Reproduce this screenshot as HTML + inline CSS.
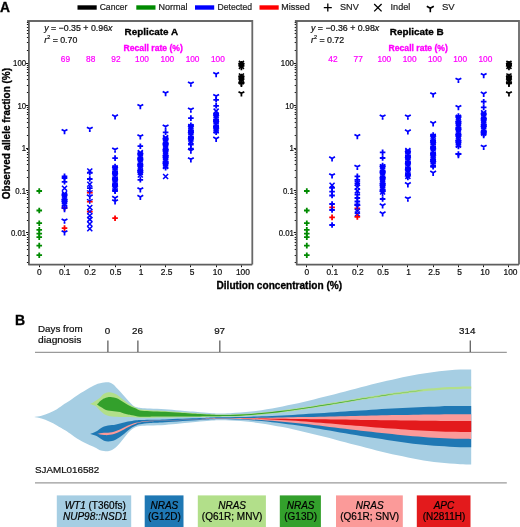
<!DOCTYPE html><html><head><meta charset="utf-8"><title>Figure</title><style>html,body{margin:0;padding:0;background:#fff;}svg{display:block;}text{font-family:"Liberation Sans", Arial, Helvetica, sans-serif;}</style></head><body>
<svg width="520" height="527" viewBox="0 0 520 527">

<defs>
<path id="mp" d="M-2.8,0 H2.8 M0,-2.8 V2.8" stroke-width="1.8" fill="none"/>
<path id="mx" d="M-2.5,-2.5 L2.5,2.5 M-2.5,2.5 L2.5,-2.5" stroke-width="1.55" fill="none"/>
<path id="my" d="M-2.9,-2.1 L0,-0.5 L2.9,-2.1 M0,-0.5 V2.7" stroke-width="1.75" fill="none"/>
<path id="mpt" d="M-2.7,0 H2.7 M0,-2.7 V2.7" stroke-width="1.15" fill="none"/>
<path id="mxt" d="M-2.5,-2.5 L2.5,2.5 M-2.5,2.5 L2.5,-2.5" stroke-width="1.05" fill="none"/>
<path id="myt" d="M-2.9,-2.1 L0,-0.5 L2.9,-2.1 M0,-0.5 V2.7" stroke-width="1.3" fill="none"/>
</defs>

<text x="0.1" y="11.5" font-size="13.8" font-weight="bold" fill="#000" stroke="#000" stroke-width="0.32">A</text>
<text x="15.0" y="325.4" font-size="14" font-weight="bold" fill="#000" stroke="#000" stroke-width="0.32">B</text>
<rect x="77.5" y="5.3" width="19.2" height="4.4" fill="#000"/>
<text x="99.7" y="10.2" font-size="9.6" fill="#222" textLength="27.6" lengthAdjust="spacingAndGlyphs" stroke="#222" stroke-width="0.22">Cancer</text>
<rect x="136.3" y="5.3" width="19.2" height="4.4" fill="#008a00"/>
<text x="158.4" y="10.2" font-size="9.6" fill="#222" textLength="29.1" lengthAdjust="spacingAndGlyphs" stroke="#222" stroke-width="0.22">Normal</text>
<rect x="195" y="5.3" width="19.2" height="4.4" fill="#0000ff"/>
<text x="217.5" y="10.2" font-size="9.6" fill="#222" textLength="34.6" lengthAdjust="spacingAndGlyphs" stroke="#222" stroke-width="0.22">Detected</text>
<rect x="259.5" y="5.3" width="19.2" height="4.4" fill="#ff0000"/>
<text x="281.2" y="10.2" font-size="9.6" fill="#222" textLength="28.5" lengthAdjust="spacingAndGlyphs" stroke="#222" stroke-width="0.22">Missed</text>
<path d="M323.8,7.6 H331.8 M327.8,3.6 V11.6" stroke="#000" stroke-width="1.3" fill="none"/>
<text x="340.0" y="10.2" font-size="9.6" fill="#222" textLength="18.7" lengthAdjust="spacingAndGlyphs" stroke="#222" stroke-width="0.22">SNV</text>
<path d="M374.2,4 L381.6,11.4 M374.2,11.4 L381.6,4" stroke="#000" stroke-width="1.3" fill="none"/>
<text x="390.6" y="10.2" font-size="9.6" fill="#222" textLength="19.7" lengthAdjust="spacingAndGlyphs" stroke="#222" stroke-width="0.22">Indel</text>
<path d="M426.8,6.2 L430.3,8.3 L433.8,6.2 M430.3,8.3 V12.2" stroke="#000" stroke-width="1.6" fill="none"/>
<text x="442.0" y="10.2" font-size="9.6" fill="#222" textLength="12.7" lengthAdjust="spacingAndGlyphs" stroke="#222" stroke-width="0.22">SV</text>
<path d="M27.10,21.00 H252.30 V264.60" fill="none" stroke="#686868" stroke-width="1.8"/>
<path d="M28.90,21.00 V264.60 H252.30" fill="none" stroke="#5e5e5e" stroke-width="1.8" stroke-linejoin="round"/>
<path d="M26.90,262.50 H28.10 M26.90,255.50 H28.10 M26.90,249.50 H28.10 M26.90,245.50 H28.10 M26.90,242.50 H28.10 M26.90,239.50 H28.10 M26.90,237.50 H28.10 M26.90,234.50 H28.10 M26.00,232.50 H28.10 M26.90,220.50 H28.10 M26.90,212.50 H28.10 M26.90,207.50 H28.10 M26.90,203.50 H28.10 M26.90,199.50 H28.10 M26.90,197.50 H28.10 M26.90,194.50 H28.10 M26.90,192.50 H28.10 M26.00,190.50 H28.10 M26.90,177.50 H28.10 M26.90,170.50 H28.10 M26.90,164.50 H28.10 M26.90,160.50 H28.10 M26.90,157.50 H28.10 M26.90,154.50 H28.10 M26.90,152.50 H28.10 M26.90,149.50 H28.10 M26.00,148.50 H28.10 M26.90,135.50 H28.10 M26.90,127.50 H28.10 M26.90,122.50 H28.10 M26.90,118.50 H28.10 M26.90,114.50 H28.10 M26.90,112.50 H28.10 M26.90,109.50 H28.10 M26.90,107.50 H28.10 M26.00,105.50 H28.10 M26.90,92.50 H28.10 M26.90,85.50 H28.10 M26.90,79.50 H28.10 M26.90,75.50 H28.10 M26.90,72.50 H28.10 M26.90,69.50 H28.10 M26.90,67.50 H28.10 M26.90,65.50 H28.10 M26.00,63.50 H28.10 M26.90,50.50 H28.10 M26.90,42.50 H28.10 M26.90,37.50 H28.10 M26.90,33.50 H28.10 M26.90,30.50 H28.10 M26.90,27.50 H28.10 M26.90,24.50 H28.10 M26.90,22.50 H28.10" stroke="#111" stroke-width="1.0" fill="none"/>
<text x="26.10" y="66.20" text-anchor="end" font-size="8.4" fill="#111" textLength="13.03" lengthAdjust="spacingAndGlyphs" stroke="#111" stroke-width="0.22">100</text>
<text x="26.10" y="108.65" text-anchor="end" font-size="8.4" fill="#111" textLength="8.69" lengthAdjust="spacingAndGlyphs" stroke="#111" stroke-width="0.22">10</text>
<text x="26.10" y="151.10" text-anchor="end" font-size="8.4" fill="#111" textLength="4.34" lengthAdjust="spacingAndGlyphs" stroke="#111" stroke-width="0.22">1</text>
<text x="26.10" y="193.55" text-anchor="end" font-size="8.4" fill="#111" textLength="10.86" lengthAdjust="spacingAndGlyphs" stroke="#111" stroke-width="0.22">0.1</text>
<text x="26.10" y="236.00" text-anchor="end" font-size="8.4" fill="#111" textLength="15.20" lengthAdjust="spacingAndGlyphs" stroke="#111" stroke-width="0.22">0.01</text>
<text x="39.25" y="274.9" text-anchor="middle" font-size="8.4" fill="#111" stroke="#111" stroke-width="0.22">0</text>
<text x="64.71" y="274.9" text-anchor="middle" font-size="8.4" fill="#111" stroke="#111" stroke-width="0.22">0.1</text>
<text x="90.17" y="274.9" text-anchor="middle" font-size="8.4" fill="#111" stroke="#111" stroke-width="0.22">0.2</text>
<text x="115.63" y="274.9" text-anchor="middle" font-size="8.4" fill="#111" stroke="#111" stroke-width="0.22">0.5</text>
<text x="141.09" y="274.9" text-anchor="middle" font-size="8.4" fill="#111" stroke="#111" stroke-width="0.22">1</text>
<text x="166.55" y="274.9" text-anchor="middle" font-size="8.4" fill="#111" stroke="#111" stroke-width="0.22">2.5</text>
<text x="192.01" y="274.9" text-anchor="middle" font-size="8.4" fill="#111" stroke="#111" stroke-width="0.22">5</text>
<text x="217.47" y="274.9" text-anchor="middle" font-size="8.4" fill="#111" stroke="#111" stroke-width="0.22">10</text>
<text x="242.93" y="274.9" text-anchor="middle" font-size="8.4" fill="#111" stroke="#111" stroke-width="0.22">100</text>
<path d="M39.50,265.40 V267.20 M64.50,265.40 V267.20 M89.50,265.40 V267.20 M115.50,265.40 V267.20 M140.50,265.40 V267.20 M165.50,265.40 V267.20 M190.50,265.40 V267.20 M216.50,265.40 V267.20 M241.50,265.40 V267.20" stroke="#111" stroke-width="1.0" fill="none"/>
<text x="65.42" y="61.6" text-anchor="middle" font-size="8.3" fill="#ff00ff" stroke="#ff00ff" stroke-width="0.22">69</text>
<text x="90.69" y="61.6" text-anchor="middle" font-size="8.3" fill="#ff00ff" stroke="#ff00ff" stroke-width="0.22">88</text>
<text x="115.96" y="61.6" text-anchor="middle" font-size="8.3" fill="#ff00ff" stroke="#ff00ff" stroke-width="0.22">92</text>
<text x="142.03" y="61.6" text-anchor="middle" font-size="8.3" fill="#ff00ff" stroke="#ff00ff" stroke-width="0.22">100</text>
<text x="167.30" y="61.6" text-anchor="middle" font-size="8.3" fill="#ff00ff" stroke="#ff00ff" stroke-width="0.22">100</text>
<text x="192.57" y="61.6" text-anchor="middle" font-size="8.3" fill="#ff00ff" stroke="#ff00ff" stroke-width="0.22">100</text>
<text x="217.84" y="61.6" text-anchor="middle" font-size="8.3" fill="#ff00ff" stroke="#ff00ff" stroke-width="0.22">100</text>
<text x="123.60" y="50.6" font-size="8.6" font-weight="bold" fill="#ff00ff" stroke="#ff00ff" stroke-width="0.32">Recall rate (%)</text>
<text x="124.60" y="35.1" font-size="9.9" font-weight="bold" fill="#000" stroke="#000" stroke-width="0.32">Replicate A</text>
<text x="44.20" y="31.4" font-size="8.8" fill="#111" stroke="#111" stroke-width="0.22"><tspan font-style="italic">y</tspan> = −0.35 + 0.96<tspan font-style="italic">x</tspan></text>
<text x="44.20" y="42.6" font-size="8.8" fill="#111" stroke="#111" stroke-width="0.22"><tspan font-style="italic">r</tspan><tspan font-size="5.5" dy="-3.2">2</tspan><tspan dy="3.2"> = 0.70</tspan></text>
<path d="M294.90,21.00 H519.00 V264.60" fill="none" stroke="#686868" stroke-width="1.8"/>
<path d="M296.70,21.00 V264.60 H519.00" fill="none" stroke="#5e5e5e" stroke-width="1.8" stroke-linejoin="round"/>
<path d="M294.70,262.50 H295.90 M294.70,255.50 H295.90 M294.70,249.50 H295.90 M294.70,245.50 H295.90 M294.70,242.50 H295.90 M294.70,239.50 H295.90 M294.70,237.50 H295.90 M294.70,234.50 H295.90 M293.80,232.50 H295.90 M294.70,220.50 H295.90 M294.70,212.50 H295.90 M294.70,207.50 H295.90 M294.70,203.50 H295.90 M294.70,199.50 H295.90 M294.70,197.50 H295.90 M294.70,194.50 H295.90 M294.70,192.50 H295.90 M293.80,190.50 H295.90 M294.70,177.50 H295.90 M294.70,170.50 H295.90 M294.70,164.50 H295.90 M294.70,160.50 H295.90 M294.70,157.50 H295.90 M294.70,154.50 H295.90 M294.70,152.50 H295.90 M294.70,149.50 H295.90 M293.80,148.50 H295.90 M294.70,135.50 H295.90 M294.70,127.50 H295.90 M294.70,122.50 H295.90 M294.70,118.50 H295.90 M294.70,114.50 H295.90 M294.70,112.50 H295.90 M294.70,109.50 H295.90 M294.70,107.50 H295.90 M293.80,105.50 H295.90 M294.70,92.50 H295.90 M294.70,85.50 H295.90 M294.70,79.50 H295.90 M294.70,75.50 H295.90 M294.70,72.50 H295.90 M294.70,69.50 H295.90 M294.70,67.50 H295.90 M294.70,65.50 H295.90 M293.80,63.50 H295.90 M294.70,50.50 H295.90 M294.70,42.50 H295.90 M294.70,37.50 H295.90 M294.70,33.50 H295.90 M294.70,30.50 H295.90 M294.70,27.50 H295.90 M294.70,24.50 H295.90 M294.70,22.50 H295.90" stroke="#111" stroke-width="1.0" fill="none"/>
<text x="293.90" y="66.20" text-anchor="end" font-size="8.4" fill="#111" textLength="13.03" lengthAdjust="spacingAndGlyphs" stroke="#111" stroke-width="0.22">100</text>
<text x="293.90" y="108.65" text-anchor="end" font-size="8.4" fill="#111" textLength="8.69" lengthAdjust="spacingAndGlyphs" stroke="#111" stroke-width="0.22">10</text>
<text x="293.90" y="151.10" text-anchor="end" font-size="8.4" fill="#111" textLength="4.34" lengthAdjust="spacingAndGlyphs" stroke="#111" stroke-width="0.22">1</text>
<text x="293.90" y="193.55" text-anchor="end" font-size="8.4" fill="#111" textLength="10.86" lengthAdjust="spacingAndGlyphs" stroke="#111" stroke-width="0.22">0.1</text>
<text x="293.90" y="236.00" text-anchor="end" font-size="8.4" fill="#111" textLength="15.20" lengthAdjust="spacingAndGlyphs" stroke="#111" stroke-width="0.22">0.01</text>
<text x="306.80" y="274.9" text-anchor="middle" font-size="8.4" fill="#111" stroke="#111" stroke-width="0.22">0</text>
<text x="332.26" y="274.9" text-anchor="middle" font-size="8.4" fill="#111" stroke="#111" stroke-width="0.22">0.1</text>
<text x="357.72" y="274.9" text-anchor="middle" font-size="8.4" fill="#111" stroke="#111" stroke-width="0.22">0.2</text>
<text x="383.18" y="274.9" text-anchor="middle" font-size="8.4" fill="#111" stroke="#111" stroke-width="0.22">0.5</text>
<text x="408.64" y="274.9" text-anchor="middle" font-size="8.4" fill="#111" stroke="#111" stroke-width="0.22">1</text>
<text x="434.10" y="274.9" text-anchor="middle" font-size="8.4" fill="#111" stroke="#111" stroke-width="0.22">2.5</text>
<text x="459.56" y="274.9" text-anchor="middle" font-size="8.4" fill="#111" stroke="#111" stroke-width="0.22">5</text>
<text x="485.02" y="274.9" text-anchor="middle" font-size="8.4" fill="#111" stroke="#111" stroke-width="0.22">10</text>
<text x="510.48" y="274.9" text-anchor="middle" font-size="8.4" fill="#111" stroke="#111" stroke-width="0.22">100</text>
<path d="M306.50,265.40 V267.20 M332.50,265.40 V267.20 M357.50,265.40 V267.20 M382.50,265.40 V267.20 M407.50,265.40 V267.20 M433.50,265.40 V267.20 M458.50,265.40 V267.20 M483.50,265.40 V267.20 M508.50,265.40 V267.20" stroke="#111" stroke-width="1.0" fill="none"/>
<text x="332.97" y="61.6" text-anchor="middle" font-size="8.3" fill="#ff00ff" stroke="#ff00ff" stroke-width="0.22">42</text>
<text x="358.24" y="61.6" text-anchor="middle" font-size="8.3" fill="#ff00ff" stroke="#ff00ff" stroke-width="0.22">77</text>
<text x="384.31" y="61.6" text-anchor="middle" font-size="8.3" fill="#ff00ff" stroke="#ff00ff" stroke-width="0.22">100</text>
<text x="409.58" y="61.6" text-anchor="middle" font-size="8.3" fill="#ff00ff" stroke="#ff00ff" stroke-width="0.22">100</text>
<text x="434.85" y="61.6" text-anchor="middle" font-size="8.3" fill="#ff00ff" stroke="#ff00ff" stroke-width="0.22">100</text>
<text x="460.12" y="61.6" text-anchor="middle" font-size="8.3" fill="#ff00ff" stroke="#ff00ff" stroke-width="0.22">100</text>
<text x="485.39" y="61.6" text-anchor="middle" font-size="8.3" fill="#ff00ff" stroke="#ff00ff" stroke-width="0.22">100</text>
<text x="388.60" y="50.6" font-size="8.6" font-weight="bold" fill="#ff00ff" stroke="#ff00ff" stroke-width="0.32">Recall rate (%)</text>
<text x="389.80" y="35.1" font-size="9.9" font-weight="bold" fill="#000" stroke="#000" stroke-width="0.32">Replicate B</text>
<text x="311.00" y="31.4" font-size="8.8" fill="#111" stroke="#111" stroke-width="0.22"><tspan font-style="italic">y</tspan> = −0.36 + 0.98<tspan font-style="italic">x</tspan></text>
<text x="311.00" y="42.6" font-size="8.8" fill="#111" stroke="#111" stroke-width="0.22"><tspan font-style="italic">r</tspan><tspan font-size="5.5" dy="-3.2">2</tspan><tspan dy="3.2"> = 0.72</tspan></text>
<text transform="translate(10.2,133.6) rotate(-90)" text-anchor="middle" font-size="10.6" font-weight="bold" fill="#000" textLength="131.2" lengthAdjust="spacingAndGlyphs" stroke="#000" stroke-width="0.32">Observed allele fraction (%)</text>
<text x="279.3" y="288.6" text-anchor="middle" font-size="10.1" font-weight="bold" fill="#000" stroke="#000" stroke-width="0.32">Dilution concentration (%)</text>
<use href="#mp" x="39.25" y="191.00" stroke="#008a00"/>
<use href="#mp" x="306.80" y="191.00" stroke="#008a00"/>
<use href="#mp" x="39.25" y="210.50" stroke="#008a00"/>
<use href="#mp" x="306.80" y="210.50" stroke="#008a00"/>
<use href="#mp" x="39.25" y="223.20" stroke="#008a00"/>
<use href="#mp" x="306.80" y="223.20" stroke="#008a00"/>
<use href="#mp" x="39.25" y="229.80" stroke="#008a00"/>
<use href="#mp" x="306.80" y="229.80" stroke="#008a00"/>
<use href="#mp" x="39.25" y="233.60" stroke="#008a00"/>
<use href="#mp" x="306.80" y="233.60" stroke="#008a00"/>
<use href="#mp" x="39.25" y="237.10" stroke="#008a00"/>
<use href="#mp" x="306.80" y="237.10" stroke="#008a00"/>
<use href="#mp" x="39.25" y="245.60" stroke="#008a00"/>
<use href="#mp" x="306.80" y="245.60" stroke="#008a00"/>
<use href="#mp" x="39.25" y="255.20" stroke="#008a00"/>
<use href="#mp" x="306.80" y="255.20" stroke="#008a00"/>
<use href="#my" x="64.52" y="131.60" stroke="#0000ff"/>
<use href="#mp" x="64.52" y="208.00" stroke="#ff0000"/>
<use href="#mp" x="64.52" y="176.40" stroke="#0000ff"/>
<use href="#mp" x="64.52" y="178.00" stroke="#0000ff"/>
<use href="#mp" x="64.52" y="181.80" stroke="#0000ff"/>
<use href="#mx" x="64.52" y="188.30" stroke="#0000ff"/>
<use href="#mx" x="64.52" y="193.80" stroke="#0000ff"/>
<use href="#mx" x="64.52" y="195.11" stroke="#0000ff"/>
<use href="#my" x="64.52" y="196.42" stroke="#0000ff"/>
<use href="#mx" x="64.52" y="197.73" stroke="#0000ff"/>
<use href="#mp" x="64.52" y="199.04" stroke="#0000ff"/>
<use href="#mp" x="64.52" y="200.36" stroke="#0000ff"/>
<use href="#mx" x="64.52" y="201.67" stroke="#0000ff"/>
<use href="#my" x="64.52" y="202.98" stroke="#0000ff"/>
<use href="#mx" x="64.52" y="204.29" stroke="#0000ff"/>
<use href="#mp" x="64.52" y="205.60" stroke="#0000ff"/>
<use href="#my" x="64.52" y="209.60" stroke="#0000ff"/>
<use href="#my" x="64.52" y="221.00" stroke="#0000ff"/>
<use href="#my" x="64.52" y="232.80" stroke="#0000ff"/>
<use href="#mp" x="64.52" y="228.10" stroke="#ff0000"/>
<use href="#my" x="89.79" y="129.30" stroke="#0000ff"/>
<path d="M86.89,192.60 H92.69" stroke="#ff0000" stroke-width="1.9"/>
<path d="M86.89,201.60 H92.69" stroke="#ff0000" stroke-width="1.9"/>
<path d="M86.89,211.60 H92.69" stroke="#ff0000" stroke-width="1.9"/>
<use href="#mx" x="89.79" y="171.00" stroke="#0000ff"/>
<use href="#mp" x="89.79" y="172.60" stroke="#0000ff"/>
<use href="#mp" x="89.79" y="179.00" stroke="#0000ff"/>
<use href="#mx" x="89.79" y="184.30" stroke="#0000ff"/>
<use href="#mp" x="89.79" y="188.20" stroke="#0000ff"/>
<use href="#myt" x="89.79" y="192.60" stroke="#0000ff"/>
<use href="#my" x="89.79" y="196.90" stroke="#0000ff"/>
<use href="#myt" x="89.79" y="201.30" stroke="#0000ff"/>
<use href="#mx" x="89.79" y="207.50" stroke="#0000ff"/>
<use href="#mxt" x="89.79" y="211.60" stroke="#0000ff"/>
<use href="#mx" x="89.79" y="215.80" stroke="#0000ff"/>
<use href="#mx" x="89.79" y="219.40" stroke="#0000ff"/>
<use href="#mx" x="89.79" y="224.00" stroke="#0000ff"/>
<use href="#mx" x="89.79" y="228.70" stroke="#0000ff"/>
<use href="#my" x="115.06" y="116.90" stroke="#0000ff"/>
<use href="#my" x="115.06" y="150.10" stroke="#0000ff"/>
<use href="#mp" x="115.06" y="158.10" stroke="#0000ff"/>
<use href="#mp" x="115.06" y="166.60" stroke="#0000ff"/>
<use href="#mx" x="115.06" y="167.83" stroke="#0000ff"/>
<use href="#my" x="115.06" y="169.06" stroke="#0000ff"/>
<use href="#mx" x="115.06" y="170.29" stroke="#0000ff"/>
<use href="#mp" x="115.06" y="171.52" stroke="#0000ff"/>
<use href="#mp" x="115.06" y="172.75" stroke="#0000ff"/>
<use href="#mx" x="115.06" y="173.98" stroke="#0000ff"/>
<use href="#my" x="115.06" y="175.21" stroke="#0000ff"/>
<use href="#mx" x="115.06" y="176.44" stroke="#0000ff"/>
<use href="#mp" x="115.06" y="177.67" stroke="#0000ff"/>
<use href="#mp" x="115.06" y="178.90" stroke="#0000ff"/>
<use href="#mx" x="115.06" y="180.13" stroke="#0000ff"/>
<use href="#my" x="115.06" y="181.36" stroke="#0000ff"/>
<use href="#mx" x="115.06" y="182.59" stroke="#0000ff"/>
<use href="#mp" x="115.06" y="183.82" stroke="#0000ff"/>
<use href="#mp" x="115.06" y="185.05" stroke="#0000ff"/>
<use href="#mx" x="115.06" y="186.28" stroke="#0000ff"/>
<use href="#my" x="115.06" y="187.51" stroke="#0000ff"/>
<use href="#mx" x="115.06" y="188.74" stroke="#0000ff"/>
<use href="#mp" x="115.06" y="189.97" stroke="#0000ff"/>
<use href="#mp" x="115.06" y="191.20" stroke="#0000ff"/>
<use href="#my" x="115.06" y="198.40" stroke="#0000ff"/>
<use href="#my" x="115.06" y="201.80" stroke="#0000ff"/>
<use href="#mp" x="115.06" y="218.20" stroke="#ff0000"/>
<use href="#my" x="140.33" y="106.60" stroke="#0000ff"/>
<use href="#my" x="140.33" y="136.80" stroke="#0000ff"/>
<use href="#mp" x="140.33" y="146.20" stroke="#0000ff"/>
<use href="#mx" x="140.33" y="152.60" stroke="#0000ff"/>
<use href="#mx" x="140.33" y="153.84" stroke="#0000ff"/>
<use href="#my" x="140.33" y="155.09" stroke="#0000ff"/>
<use href="#mx" x="140.33" y="156.33" stroke="#0000ff"/>
<use href="#mp" x="140.33" y="157.58" stroke="#0000ff"/>
<use href="#mp" x="140.33" y="158.82" stroke="#0000ff"/>
<use href="#mx" x="140.33" y="160.07" stroke="#0000ff"/>
<use href="#my" x="140.33" y="161.31" stroke="#0000ff"/>
<use href="#mx" x="140.33" y="162.56" stroke="#0000ff"/>
<use href="#mp" x="140.33" y="163.80" stroke="#0000ff"/>
<use href="#mp" x="140.33" y="165.04" stroke="#0000ff"/>
<use href="#mx" x="140.33" y="166.29" stroke="#0000ff"/>
<use href="#my" x="140.33" y="167.53" stroke="#0000ff"/>
<use href="#mx" x="140.33" y="168.78" stroke="#0000ff"/>
<use href="#mp" x="140.33" y="170.02" stroke="#0000ff"/>
<use href="#mp" x="140.33" y="171.27" stroke="#0000ff"/>
<use href="#mx" x="140.33" y="172.51" stroke="#0000ff"/>
<use href="#my" x="140.33" y="173.76" stroke="#0000ff"/>
<use href="#mx" x="140.33" y="175.00" stroke="#0000ff"/>
<use href="#mp" x="140.33" y="179.80" stroke="#0000ff"/>
<use href="#my" x="140.33" y="189.80" stroke="#0000ff"/>
<use href="#my" x="140.33" y="197.40" stroke="#0000ff"/>
<use href="#my" x="165.60" y="93.60" stroke="#0000ff"/>
<use href="#my" x="165.60" y="127.00" stroke="#0000ff"/>
<use href="#mp" x="165.60" y="132.30" stroke="#0000ff"/>
<use href="#mx" x="165.60" y="137.60" stroke="#0000ff"/>
<use href="#mx" x="165.60" y="138.85" stroke="#0000ff"/>
<use href="#my" x="165.60" y="140.10" stroke="#0000ff"/>
<use href="#mx" x="165.60" y="141.35" stroke="#0000ff"/>
<use href="#mp" x="165.60" y="142.60" stroke="#0000ff"/>
<use href="#mp" x="165.60" y="143.85" stroke="#0000ff"/>
<use href="#mx" x="165.60" y="145.10" stroke="#0000ff"/>
<use href="#my" x="165.60" y="146.35" stroke="#0000ff"/>
<use href="#mx" x="165.60" y="147.60" stroke="#0000ff"/>
<use href="#mp" x="165.60" y="148.85" stroke="#0000ff"/>
<use href="#mp" x="165.60" y="150.10" stroke="#0000ff"/>
<use href="#mx" x="165.60" y="151.35" stroke="#0000ff"/>
<use href="#my" x="165.60" y="152.60" stroke="#0000ff"/>
<use href="#mx" x="165.60" y="153.85" stroke="#0000ff"/>
<use href="#mp" x="165.60" y="155.10" stroke="#0000ff"/>
<use href="#mp" x="165.60" y="156.35" stroke="#0000ff"/>
<use href="#mx" x="165.60" y="157.60" stroke="#0000ff"/>
<use href="#my" x="165.60" y="158.85" stroke="#0000ff"/>
<use href="#mx" x="165.60" y="160.10" stroke="#0000ff"/>
<use href="#mp" x="165.60" y="161.35" stroke="#0000ff"/>
<use href="#mp" x="165.60" y="162.60" stroke="#0000ff"/>
<use href="#mx" x="165.60" y="163.85" stroke="#0000ff"/>
<use href="#my" x="165.60" y="165.10" stroke="#0000ff"/>
<use href="#mx" x="165.60" y="166.35" stroke="#0000ff"/>
<use href="#mp" x="165.60" y="167.60" stroke="#0000ff"/>
<use href="#mx" x="165.60" y="176.50" stroke="#0000ff"/>
<use href="#my" x="190.87" y="84.00" stroke="#0000ff"/>
<use href="#my" x="190.87" y="110.10" stroke="#0000ff"/>
<use href="#mp" x="190.87" y="118.10" stroke="#0000ff"/>
<use href="#mp" x="190.87" y="125.20" stroke="#0000ff"/>
<use href="#mx" x="190.87" y="126.46" stroke="#0000ff"/>
<use href="#my" x="190.87" y="127.72" stroke="#0000ff"/>
<use href="#mx" x="190.87" y="128.98" stroke="#0000ff"/>
<use href="#mp" x="190.87" y="130.25" stroke="#0000ff"/>
<use href="#mp" x="190.87" y="131.51" stroke="#0000ff"/>
<use href="#mx" x="190.87" y="132.77" stroke="#0000ff"/>
<use href="#my" x="190.87" y="134.03" stroke="#0000ff"/>
<use href="#mx" x="190.87" y="135.29" stroke="#0000ff"/>
<use href="#mp" x="190.87" y="136.55" stroke="#0000ff"/>
<use href="#mp" x="190.87" y="137.82" stroke="#0000ff"/>
<use href="#mx" x="190.87" y="139.08" stroke="#0000ff"/>
<use href="#my" x="190.87" y="140.34" stroke="#0000ff"/>
<use href="#mx" x="190.87" y="141.60" stroke="#0000ff"/>
<use href="#mp" x="190.87" y="144.60" stroke="#0000ff"/>
<use href="#mp" x="190.87" y="148.60" stroke="#0000ff"/>
<use href="#my" x="190.87" y="151.00" stroke="#0000ff"/>
<use href="#my" x="190.87" y="159.80" stroke="#0000ff"/>
<use href="#my" x="216.14" y="74.60" stroke="#0000ff"/>
<use href="#my" x="216.14" y="96.50" stroke="#0000ff"/>
<use href="#mp" x="216.14" y="99.80" stroke="#0000ff"/>
<use href="#mp" x="216.14" y="105.80" stroke="#0000ff"/>
<use href="#mx" x="216.14" y="111.10" stroke="#0000ff"/>
<use href="#mp" x="216.14" y="114.20" stroke="#0000ff"/>
<use href="#mx" x="216.14" y="115.49" stroke="#0000ff"/>
<use href="#my" x="216.14" y="116.77" stroke="#0000ff"/>
<use href="#mx" x="216.14" y="118.06" stroke="#0000ff"/>
<use href="#mp" x="216.14" y="119.34" stroke="#0000ff"/>
<use href="#mp" x="216.14" y="120.63" stroke="#0000ff"/>
<use href="#mx" x="216.14" y="121.91" stroke="#0000ff"/>
<use href="#my" x="216.14" y="123.20" stroke="#0000ff"/>
<use href="#mx" x="216.14" y="124.49" stroke="#0000ff"/>
<use href="#mp" x="216.14" y="125.77" stroke="#0000ff"/>
<use href="#mp" x="216.14" y="127.06" stroke="#0000ff"/>
<use href="#mx" x="216.14" y="128.34" stroke="#0000ff"/>
<use href="#my" x="216.14" y="129.63" stroke="#0000ff"/>
<use href="#mx" x="216.14" y="130.91" stroke="#0000ff"/>
<use href="#mp" x="216.14" y="132.20" stroke="#0000ff"/>
<use href="#my" x="216.14" y="139.20" stroke="#0000ff"/>
<use href="#mx" x="241.41" y="63.40" stroke="#000"/>
<use href="#mp" x="241.41" y="63.80" stroke="#000"/>
<use href="#my" x="241.41" y="65.20" stroke="#000"/>
<use href="#mx" x="241.41" y="66.40" stroke="#000"/>
<use href="#my" x="241.41" y="67.60" stroke="#000"/>
<use href="#mx" x="241.41" y="76.00" stroke="#000"/>
<use href="#mp" x="241.41" y="76.60" stroke="#000"/>
<use href="#my" x="241.41" y="77.80" stroke="#000"/>
<use href="#mx" x="241.41" y="79.20" stroke="#000"/>
<use href="#my" x="241.41" y="80.60" stroke="#000"/>
<use href="#mx" x="241.41" y="81.80" stroke="#000"/>
<use href="#mp" x="241.41" y="83.00" stroke="#000"/>
<use href="#my" x="241.41" y="84.40" stroke="#000"/>
<use href="#my" x="241.41" y="93.80" stroke="#000"/>
<use href="#mx" x="508.96" y="63.40" stroke="#000"/>
<use href="#mp" x="508.96" y="63.80" stroke="#000"/>
<use href="#my" x="508.96" y="65.20" stroke="#000"/>
<use href="#mx" x="508.96" y="66.40" stroke="#000"/>
<use href="#my" x="508.96" y="67.60" stroke="#000"/>
<use href="#mx" x="508.96" y="76.00" stroke="#000"/>
<use href="#mp" x="508.96" y="76.60" stroke="#000"/>
<use href="#my" x="508.96" y="77.80" stroke="#000"/>
<use href="#mx" x="508.96" y="79.20" stroke="#000"/>
<use href="#my" x="508.96" y="80.60" stroke="#000"/>
<use href="#mx" x="508.96" y="81.80" stroke="#000"/>
<use href="#mp" x="508.96" y="83.00" stroke="#000"/>
<use href="#my" x="508.96" y="84.40" stroke="#000"/>
<use href="#my" x="508.96" y="93.80" stroke="#000"/>
<use href="#my" x="332.07" y="158.90" stroke="#0000ff"/>
<use href="#my" x="332.07" y="175.80" stroke="#0000ff"/>
<use href="#mx" x="332.07" y="185.20" stroke="#0000ff"/>
<use href="#mp" x="332.07" y="207.40" stroke="#ff0000"/>
<use href="#mp" x="332.07" y="187.90" stroke="#0000ff"/>
<use href="#mp" x="332.07" y="191.60" stroke="#0000ff"/>
<use href="#mp" x="332.07" y="195.50" stroke="#0000ff"/>
<use href="#mp" x="332.07" y="204.00" stroke="#0000ff"/>
<use href="#mp" x="332.07" y="210.00" stroke="#0000ff"/>
<use href="#mp" x="332.07" y="225.00" stroke="#0000ff"/>
<use href="#mp" x="332.07" y="217.40" stroke="#ff0000"/>
<use href="#my" x="357.34" y="136.50" stroke="#0000ff"/>
<use href="#my" x="357.34" y="167.30" stroke="#0000ff"/>
<use href="#mp" x="357.34" y="208.40" stroke="#ff0000"/>
<use href="#mp" x="357.34" y="176.40" stroke="#0000ff"/>
<use href="#mp" x="357.34" y="179.80" stroke="#0000ff"/>
<use href="#mx" x="357.34" y="183.20" stroke="#0000ff"/>
<use href="#mp" x="357.34" y="183.40" stroke="#0000ff"/>
<use href="#mx" x="357.34" y="187.20" stroke="#0000ff"/>
<use href="#mx" x="357.34" y="190.90" stroke="#0000ff"/>
<use href="#mp" x="357.34" y="194.60" stroke="#0000ff"/>
<use href="#mp" x="357.34" y="198.00" stroke="#0000ff"/>
<use href="#mp" x="357.34" y="201.50" stroke="#0000ff"/>
<use href="#mp" x="357.34" y="204.30" stroke="#0000ff"/>
<use href="#my" x="357.34" y="206.80" stroke="#0000ff"/>
<use href="#mx" x="357.34" y="211.20" stroke="#0000ff"/>
<use href="#mx" x="357.34" y="214.00" stroke="#0000ff"/>
<use href="#mp" x="357.34" y="216.90" stroke="#ff0000"/>
<use href="#my" x="382.61" y="117.10" stroke="#0000ff"/>
<use href="#mp" x="382.61" y="152.40" stroke="#0000ff"/>
<use href="#mp" x="382.61" y="158.00" stroke="#0000ff"/>
<use href="#mp" x="382.61" y="165.50" stroke="#0000ff"/>
<use href="#mx" x="382.61" y="166.76" stroke="#0000ff"/>
<use href="#my" x="382.61" y="168.02" stroke="#0000ff"/>
<use href="#mx" x="382.61" y="169.28" stroke="#0000ff"/>
<use href="#mp" x="382.61" y="170.54" stroke="#0000ff"/>
<use href="#mp" x="382.61" y="171.80" stroke="#0000ff"/>
<use href="#mx" x="382.61" y="173.05" stroke="#0000ff"/>
<use href="#my" x="382.61" y="174.31" stroke="#0000ff"/>
<use href="#mx" x="382.61" y="175.57" stroke="#0000ff"/>
<use href="#mp" x="382.61" y="176.83" stroke="#0000ff"/>
<use href="#mp" x="382.61" y="178.09" stroke="#0000ff"/>
<use href="#mx" x="382.61" y="179.35" stroke="#0000ff"/>
<use href="#my" x="382.61" y="180.61" stroke="#0000ff"/>
<use href="#mx" x="382.61" y="181.87" stroke="#0000ff"/>
<use href="#mp" x="382.61" y="183.13" stroke="#0000ff"/>
<use href="#mp" x="382.61" y="184.39" stroke="#0000ff"/>
<use href="#mx" x="382.61" y="185.65" stroke="#0000ff"/>
<use href="#my" x="382.61" y="186.90" stroke="#0000ff"/>
<use href="#mx" x="382.61" y="188.16" stroke="#0000ff"/>
<use href="#mp" x="382.61" y="189.42" stroke="#0000ff"/>
<use href="#mp" x="382.61" y="190.68" stroke="#0000ff"/>
<use href="#mx" x="382.61" y="191.94" stroke="#0000ff"/>
<use href="#my" x="382.61" y="193.20" stroke="#0000ff"/>
<use href="#mp" x="382.61" y="199.00" stroke="#0000ff"/>
<use href="#my" x="382.61" y="205.90" stroke="#0000ff"/>
<use href="#my" x="382.61" y="213.90" stroke="#0000ff"/>
<use href="#my" x="407.88" y="117.10" stroke="#0000ff"/>
<use href="#my" x="407.88" y="131.90" stroke="#0000ff"/>
<use href="#mx" x="407.88" y="150.50" stroke="#0000ff"/>
<use href="#mx" x="407.88" y="151.73" stroke="#0000ff"/>
<use href="#my" x="407.88" y="152.96" stroke="#0000ff"/>
<use href="#mx" x="407.88" y="154.20" stroke="#0000ff"/>
<use href="#mp" x="407.88" y="155.43" stroke="#0000ff"/>
<use href="#mp" x="407.88" y="156.66" stroke="#0000ff"/>
<use href="#mx" x="407.88" y="157.89" stroke="#0000ff"/>
<use href="#my" x="407.88" y="159.12" stroke="#0000ff"/>
<use href="#mx" x="407.88" y="160.35" stroke="#0000ff"/>
<use href="#mp" x="407.88" y="161.59" stroke="#0000ff"/>
<use href="#mp" x="407.88" y="162.82" stroke="#0000ff"/>
<use href="#mx" x="407.88" y="164.05" stroke="#0000ff"/>
<use href="#my" x="407.88" y="165.28" stroke="#0000ff"/>
<use href="#mx" x="407.88" y="166.51" stroke="#0000ff"/>
<use href="#mp" x="407.88" y="167.75" stroke="#0000ff"/>
<use href="#mp" x="407.88" y="168.98" stroke="#0000ff"/>
<use href="#mx" x="407.88" y="170.21" stroke="#0000ff"/>
<use href="#my" x="407.88" y="171.44" stroke="#0000ff"/>
<use href="#mx" x="407.88" y="172.67" stroke="#0000ff"/>
<use href="#mp" x="407.88" y="173.90" stroke="#0000ff"/>
<use href="#mp" x="407.88" y="175.14" stroke="#0000ff"/>
<use href="#mx" x="407.88" y="176.37" stroke="#0000ff"/>
<use href="#my" x="407.88" y="177.60" stroke="#0000ff"/>
<use href="#my" x="407.88" y="184.70" stroke="#0000ff"/>
<use href="#my" x="407.88" y="199.10" stroke="#0000ff"/>
<use href="#my" x="433.15" y="94.80" stroke="#0000ff"/>
<use href="#my" x="433.15" y="123.70" stroke="#0000ff"/>
<use href="#mp" x="433.15" y="135.00" stroke="#0000ff"/>
<use href="#mx" x="433.15" y="136.27" stroke="#0000ff"/>
<use href="#my" x="433.15" y="137.54" stroke="#0000ff"/>
<use href="#mx" x="433.15" y="138.82" stroke="#0000ff"/>
<use href="#mp" x="433.15" y="140.09" stroke="#0000ff"/>
<use href="#mp" x="433.15" y="141.36" stroke="#0000ff"/>
<use href="#mx" x="433.15" y="142.63" stroke="#0000ff"/>
<use href="#my" x="433.15" y="143.90" stroke="#0000ff"/>
<use href="#mx" x="433.15" y="145.18" stroke="#0000ff"/>
<use href="#mp" x="433.15" y="146.45" stroke="#0000ff"/>
<use href="#mp" x="433.15" y="147.72" stroke="#0000ff"/>
<use href="#mx" x="433.15" y="148.99" stroke="#0000ff"/>
<use href="#my" x="433.15" y="150.26" stroke="#0000ff"/>
<use href="#mx" x="433.15" y="151.54" stroke="#0000ff"/>
<use href="#mp" x="433.15" y="152.81" stroke="#0000ff"/>
<use href="#mp" x="433.15" y="154.08" stroke="#0000ff"/>
<use href="#mx" x="433.15" y="155.35" stroke="#0000ff"/>
<use href="#my" x="433.15" y="156.62" stroke="#0000ff"/>
<use href="#mx" x="433.15" y="157.90" stroke="#0000ff"/>
<use href="#mp" x="433.15" y="159.17" stroke="#0000ff"/>
<use href="#mp" x="433.15" y="160.44" stroke="#0000ff"/>
<use href="#mx" x="433.15" y="161.71" stroke="#0000ff"/>
<use href="#my" x="433.15" y="162.98" stroke="#0000ff"/>
<use href="#mx" x="433.15" y="164.26" stroke="#0000ff"/>
<use href="#mp" x="433.15" y="165.53" stroke="#0000ff"/>
<use href="#mp" x="433.15" y="166.80" stroke="#0000ff"/>
<use href="#my" x="433.15" y="173.20" stroke="#0000ff"/>
<use href="#my" x="458.42" y="80.30" stroke="#0000ff"/>
<use href="#my" x="458.42" y="107.60" stroke="#0000ff"/>
<use href="#mp" x="458.42" y="116.00" stroke="#0000ff"/>
<use href="#mx" x="458.42" y="117.27" stroke="#0000ff"/>
<use href="#my" x="458.42" y="118.53" stroke="#0000ff"/>
<use href="#mx" x="458.42" y="119.80" stroke="#0000ff"/>
<use href="#mp" x="458.42" y="121.07" stroke="#0000ff"/>
<use href="#mp" x="458.42" y="122.33" stroke="#0000ff"/>
<use href="#mx" x="458.42" y="123.60" stroke="#0000ff"/>
<use href="#my" x="458.42" y="124.87" stroke="#0000ff"/>
<use href="#mx" x="458.42" y="126.13" stroke="#0000ff"/>
<use href="#mp" x="458.42" y="127.40" stroke="#0000ff"/>
<use href="#mp" x="458.42" y="128.67" stroke="#0000ff"/>
<use href="#mx" x="458.42" y="129.93" stroke="#0000ff"/>
<use href="#my" x="458.42" y="131.20" stroke="#0000ff"/>
<use href="#mx" x="458.42" y="132.47" stroke="#0000ff"/>
<use href="#mp" x="458.42" y="133.73" stroke="#0000ff"/>
<use href="#mp" x="458.42" y="135.00" stroke="#0000ff"/>
<use href="#mx" x="458.42" y="136.27" stroke="#0000ff"/>
<use href="#my" x="458.42" y="137.53" stroke="#0000ff"/>
<use href="#mx" x="458.42" y="138.80" stroke="#0000ff"/>
<use href="#mp" x="458.42" y="140.07" stroke="#0000ff"/>
<use href="#mp" x="458.42" y="141.33" stroke="#0000ff"/>
<use href="#mx" x="458.42" y="142.60" stroke="#0000ff"/>
<use href="#my" x="458.42" y="143.87" stroke="#0000ff"/>
<use href="#mx" x="458.42" y="145.13" stroke="#0000ff"/>
<use href="#mp" x="458.42" y="146.40" stroke="#0000ff"/>
<use href="#mp" x="458.42" y="154.00" stroke="#0000ff"/>
<use href="#my" x="458.42" y="155.60" stroke="#0000ff"/>
<use href="#my" x="483.69" y="75.50" stroke="#0000ff"/>
<use href="#my" x="483.69" y="94.20" stroke="#0000ff"/>
<use href="#mp" x="483.69" y="101.70" stroke="#0000ff"/>
<use href="#mp" x="483.69" y="107.40" stroke="#0000ff"/>
<use href="#mx" x="483.69" y="112.80" stroke="#0000ff"/>
<use href="#mx" x="483.69" y="114.07" stroke="#0000ff"/>
<use href="#my" x="483.69" y="115.34" stroke="#0000ff"/>
<use href="#mx" x="483.69" y="116.61" stroke="#0000ff"/>
<use href="#mp" x="483.69" y="117.88" stroke="#0000ff"/>
<use href="#mp" x="483.69" y="119.15" stroke="#0000ff"/>
<use href="#mx" x="483.69" y="120.42" stroke="#0000ff"/>
<use href="#my" x="483.69" y="121.69" stroke="#0000ff"/>
<use href="#mx" x="483.69" y="122.96" stroke="#0000ff"/>
<use href="#mp" x="483.69" y="124.24" stroke="#0000ff"/>
<use href="#mp" x="483.69" y="125.51" stroke="#0000ff"/>
<use href="#mx" x="483.69" y="126.78" stroke="#0000ff"/>
<use href="#my" x="483.69" y="128.05" stroke="#0000ff"/>
<use href="#mx" x="483.69" y="129.32" stroke="#0000ff"/>
<use href="#mp" x="483.69" y="130.59" stroke="#0000ff"/>
<use href="#mp" x="483.69" y="131.86" stroke="#0000ff"/>
<use href="#mx" x="483.69" y="133.13" stroke="#0000ff"/>
<use href="#my" x="483.69" y="134.40" stroke="#0000ff"/>
<use href="#my" x="483.69" y="135.50" stroke="#0000ff"/>
<use href="#my" x="483.69" y="147.30" stroke="#0000ff"/>
<text x="38.0" y="332.0" font-size="9.8" fill="#111" stroke="#111" stroke-width="0.22">Days from</text>
<text x="38.0" y="343.1" font-size="9.8" fill="#111" textLength="43.3" lengthAdjust="spacingAndGlyphs" stroke="#111" stroke-width="0.22">diagnosis</text>
<path d="M35,352.4 H506.8" stroke="#9a9a9a" stroke-width="1.3"/>
<path d="M107.90,340.6 V352" stroke="#444" stroke-width="1.1"/>
<text x="107.40" y="333.9" text-anchor="middle" font-size="9.8" fill="#111" stroke="#111" stroke-width="0.22">0</text>
<path d="M137.90,340.6 V352" stroke="#444" stroke-width="1.1"/>
<text x="137.50" y="333.9" text-anchor="middle" font-size="9.8" fill="#111" stroke="#111" stroke-width="0.22">26</text>
<path d="M219.85,340.6 V352" stroke="#444" stroke-width="1.1"/>
<text x="219.60" y="333.9" text-anchor="middle" font-size="9.8" fill="#111" stroke="#111" stroke-width="0.22">97</text>
<path d="M470.25,340.6 V352" stroke="#444" stroke-width="1.1"/>
<text x="467.30" y="333.9" text-anchor="middle" font-size="9.8" fill="#111" stroke="#111" stroke-width="0.22">314</text>
<path d="M34.20,416.90 C35.42,416.72 39.00,416.43 41.50,415.80 C44.00,415.17 46.63,414.20 49.20,413.10 C51.77,412.00 54.33,410.75 56.90,409.20 C59.47,407.65 62.42,405.27 64.60,403.80 C66.78,402.33 67.43,402.12 70.00,400.40 C72.57,398.68 75.83,396.08 80.00,393.50 C84.17,390.92 91.00,386.73 95.00,384.90 C99.00,383.07 101.70,382.93 104.00,382.50 C106.30,382.07 107.30,382.02 108.80,382.30 C110.30,382.58 111.63,383.22 113.00,384.20 C114.37,385.18 115.67,386.82 117.00,388.20 C118.33,389.58 119.67,391.03 121.00,392.50 C122.33,393.97 123.67,395.48 125.00,397.00 C126.33,398.52 127.67,400.20 129.00,401.60 C130.33,403.00 131.67,404.45 133.00,405.40 C134.33,406.35 135.67,406.88 137.00,407.30 C138.33,407.72 138.83,407.70 141.00,407.90 C143.17,408.10 146.00,408.27 150.00,408.50 C154.00,408.73 160.00,408.95 165.00,409.30 C170.00,409.65 174.17,410.10 180.00,410.60 C185.83,411.10 194.67,411.87 200.00,412.30 C205.33,412.73 208.70,413.02 212.00,413.20 C215.30,413.38 216.76,413.40 219.80,413.40 C222.84,413.40 226.77,413.32 230.25,413.18 C233.73,413.03 237.22,412.81 240.70,412.53 C244.18,412.26 247.67,411.91 251.15,411.51 C254.63,411.11 258.12,410.65 261.60,410.14 C265.08,409.63 268.57,409.07 272.05,408.47 C275.53,407.86 279.02,407.21 282.50,406.52 C285.98,405.84 289.47,405.11 292.95,404.35 C296.43,403.60 299.92,402.81 303.40,401.99 C306.88,401.18 310.37,400.34 313.85,399.48 C317.33,398.62 320.82,397.74 324.30,396.85 C327.78,395.96 331.27,395.05 334.75,394.14 C338.23,393.24 341.72,392.31 345.20,391.40 C348.68,390.49 352.17,389.56 355.65,388.66 C359.13,387.75 362.62,386.84 366.10,385.95 C369.58,385.06 373.07,384.18 376.55,383.32 C380.03,382.46 383.52,381.62 387.00,380.81 C390.48,379.99 393.97,379.20 397.45,378.45 C400.93,377.69 404.42,376.96 407.90,376.27 C411.38,375.59 414.87,374.94 418.35,374.33 C421.83,373.73 425.32,373.17 428.80,372.66 C432.28,372.15 435.77,371.69 439.25,371.29 C442.73,370.89 446.22,370.54 449.70,370.27 C453.18,369.99 456.67,369.77 460.15,369.62 C463.63,369.48 468.76,369.44 470.60,369.40 C472.44,369.36 471.10,369.40 471.20,369.40 L471.20,464.40 C471.10,464.40 472.44,464.44 470.60,464.40 C468.76,464.36 463.63,464.32 460.15,464.18 C456.67,464.03 453.18,463.81 449.70,463.53 C446.22,463.25 442.73,462.90 439.25,462.50 C435.77,462.10 432.28,461.64 428.80,461.13 C425.32,460.62 421.83,460.05 418.35,459.44 C414.87,458.84 411.38,458.18 407.90,457.49 C404.42,456.81 400.93,456.07 397.45,455.31 C393.97,454.55 390.48,453.76 387.00,452.94 C383.52,452.12 380.03,451.28 376.55,450.41 C373.07,449.55 369.58,448.67 366.10,447.77 C362.62,446.88 359.13,445.97 355.65,445.06 C352.17,444.14 348.68,443.22 345.20,442.30 C341.72,441.38 338.23,440.46 334.75,439.54 C331.27,438.63 327.78,437.72 324.30,436.83 C320.82,435.93 317.33,435.05 313.85,434.19 C310.37,433.32 306.88,432.48 303.40,431.66 C299.92,430.84 296.43,430.05 292.95,429.29 C289.47,428.53 285.98,427.79 282.50,427.11 C279.02,426.42 275.53,425.76 272.05,425.16 C268.57,424.55 265.08,423.98 261.60,423.47 C258.12,422.96 254.63,422.50 251.15,422.10 C247.67,421.70 244.18,421.35 240.70,421.07 C237.22,420.79 233.73,420.57 230.25,420.42 C226.77,420.28 222.84,420.17 219.80,420.20 C216.76,420.23 215.30,420.37 212.00,420.60 C208.70,420.83 205.33,421.10 200.00,421.60 C194.67,422.10 185.83,423.05 180.00,423.60 C174.17,424.15 170.00,424.58 165.00,424.90 C160.00,425.22 154.17,425.33 150.00,425.50 C145.83,425.67 142.33,425.67 140.00,425.90 C137.67,426.13 137.33,426.35 136.00,426.90 C134.67,427.45 133.33,428.17 132.00,429.20 C130.67,430.23 129.33,431.62 128.00,433.10 C126.67,434.58 125.33,436.43 124.00,438.10 C122.67,439.77 121.33,441.57 120.00,443.10 C118.67,444.63 117.33,446.13 116.00,447.30 C114.67,448.47 113.33,449.45 112.00,450.10 C110.67,450.75 109.33,451.03 108.00,451.20 C106.67,451.37 105.33,451.27 104.00,451.10 C102.67,450.93 101.50,450.78 100.00,450.20 C98.50,449.62 98.33,449.25 95.00,447.60 C91.67,445.95 84.17,442.65 80.00,440.30 C75.83,437.95 72.57,435.22 70.00,433.50 C67.43,431.78 66.78,431.35 64.60,430.00 C62.42,428.65 59.47,426.82 56.90,425.40 C54.33,423.98 51.77,422.65 49.20,421.50 C46.63,420.35 44.00,419.27 41.50,418.50 C39.00,417.73 35.42,417.17 34.20,416.90 Z" fill="#a6cee3"/>
<path d="M90.00,404.10 C90.50,403.85 92.00,403.18 93.00,402.60 C94.00,402.02 94.83,401.42 96.00,400.60 C97.17,399.78 98.67,398.83 100.00,397.70 C101.33,396.57 102.58,394.70 104.00,393.80 C105.42,392.90 107.00,392.45 108.50,392.30 C110.00,392.15 111.58,392.48 113.00,392.90 C114.42,393.32 115.67,393.97 117.00,394.80 C118.33,395.63 119.67,396.87 121.00,397.90 C122.33,398.93 123.67,400.00 125.00,401.00 C126.33,402.00 127.67,403.02 129.00,403.90 C130.33,404.78 131.67,405.58 133.00,406.30 C134.33,407.02 135.67,407.65 137.00,408.20 C138.33,408.75 138.83,409.27 141.00,409.60 C143.17,409.93 146.00,409.98 150.00,410.20 C154.00,410.42 160.00,410.62 165.00,410.90 C170.00,411.18 174.17,411.48 180.00,411.90 C185.83,412.32 194.67,413.00 200.00,413.40 C205.33,413.80 208.70,414.10 212.00,414.30 C215.30,414.50 216.76,414.57 219.80,414.60 C222.84,414.63 226.77,414.55 230.25,414.46 C233.73,414.37 237.22,414.22 240.70,414.05 C244.18,413.87 247.67,413.65 251.15,413.39 C254.63,413.14 258.12,412.84 261.60,412.52 C265.08,412.19 268.57,411.83 272.05,411.45 C275.53,411.06 279.02,410.65 282.50,410.21 C285.98,409.77 289.47,409.31 292.95,408.82 C296.43,408.34 299.92,407.83 303.40,407.31 C306.88,406.80 310.37,406.26 313.85,405.71 C317.33,405.16 320.82,404.60 324.30,404.03 C327.78,403.46 331.27,402.88 334.75,402.30 C338.23,401.72 341.72,401.13 345.20,400.55 C348.68,399.97 352.17,399.38 355.65,398.80 C359.13,398.22 362.62,397.64 366.10,397.07 C369.58,396.50 373.07,395.94 376.55,395.39 C380.03,394.84 383.52,394.30 387.00,393.79 C390.48,393.27 393.97,392.76 397.45,392.28 C400.93,391.79 404.42,391.33 407.90,390.89 C411.38,390.45 414.87,390.04 418.35,389.65 C421.83,389.27 425.32,388.91 428.80,388.58 C432.28,388.26 435.77,387.96 439.25,387.71 C442.73,387.45 446.22,387.23 449.70,387.05 C453.18,386.88 456.67,386.73 460.15,386.64 C463.63,386.55 468.76,386.52 470.60,386.50 C472.44,386.48 471.10,386.50 471.20,386.50 L471.20,388.80 C471.10,388.80 472.44,388.78 470.60,388.80 C468.76,388.82 463.63,388.85 460.15,388.94 C456.67,389.03 453.18,389.17 449.70,389.35 C446.22,389.53 442.73,389.75 439.25,390.00 C435.77,390.25 432.28,390.55 428.80,390.87 C425.32,391.19 421.83,391.55 418.35,391.93 C414.87,392.31 411.38,392.72 407.90,393.16 C404.42,393.59 400.93,394.06 397.45,394.54 C393.97,395.01 390.48,395.52 387.00,396.03 C383.52,396.55 380.03,397.08 376.55,397.63 C373.07,398.17 369.58,398.73 366.10,399.29 C362.62,399.86 359.13,400.43 355.65,401.01 C352.17,401.59 348.68,402.17 345.20,402.75 C341.72,403.33 338.23,403.91 334.75,404.49 C331.27,405.07 327.78,405.64 324.30,406.21 C320.82,406.77 317.33,407.33 313.85,407.87 C310.37,408.42 306.88,408.95 303.40,409.47 C299.92,409.98 296.43,410.49 292.95,410.96 C289.47,411.44 285.98,411.91 282.50,412.34 C279.02,412.78 275.53,413.19 272.05,413.57 C268.57,413.95 265.08,414.31 261.60,414.63 C258.12,414.95 254.63,415.25 251.15,415.50 C247.67,415.75 244.18,415.97 240.70,416.15 C237.22,416.33 233.73,416.47 230.25,416.56 C226.77,416.65 222.84,416.66 219.80,416.70 C216.76,416.74 215.30,416.75 212.00,416.80 C208.70,416.85 207.83,416.88 200.00,417.00 C192.17,417.12 173.33,417.38 165.00,417.50 C156.67,417.62 154.17,417.65 150.00,417.70 C145.83,417.75 143.67,417.90 140.00,417.80 C136.33,417.70 131.33,417.23 128.00,417.10 C124.67,416.97 122.00,417.05 120.00,417.00 C118.00,416.95 117.33,416.88 116.00,416.80 C114.67,416.72 113.33,416.67 112.00,416.50 C110.67,416.33 109.33,416.22 108.00,415.80 C106.67,415.38 105.33,414.87 104.00,414.00 C102.67,413.13 101.33,411.88 100.00,410.60 C98.67,409.32 97.17,407.23 96.00,406.30 C94.83,405.37 94.00,405.37 93.00,405.00 C92.00,404.63 90.50,404.25 90.00,404.10 Z" fill="#b2df8a"/>
<path d="M96.80,404.30 C97.08,404.07 97.97,403.40 98.50,402.90 C99.03,402.40 99.42,401.82 100.00,401.30 C100.58,400.78 101.33,400.25 102.00,399.80 C102.67,399.35 103.00,399.03 104.00,398.60 C105.00,398.17 106.67,397.42 108.00,397.20 C109.33,396.98 110.67,397.15 112.00,397.30 C113.33,397.45 114.67,397.67 116.00,398.10 C117.33,398.53 118.67,399.18 120.00,399.90 C121.33,400.62 122.67,401.57 124.00,402.40 C125.33,403.23 126.67,404.15 128.00,404.90 C129.33,405.65 130.67,406.28 132.00,406.90 C133.33,407.52 134.67,407.98 136.00,408.60 C137.33,409.22 137.67,410.17 140.00,410.60 C142.33,411.03 145.83,411.00 150.00,411.20 C154.17,411.40 160.00,411.55 165.00,411.80 C170.00,412.05 174.17,412.32 180.00,412.70 C185.83,413.08 194.67,413.75 200.00,414.10 C205.33,414.45 208.70,414.63 212.00,414.80 C215.30,414.97 216.76,415.07 219.80,415.10 C222.84,415.13 226.77,415.05 230.25,414.96 C233.73,414.87 237.22,414.73 240.70,414.56 C244.18,414.39 247.67,414.17 251.15,413.92 C254.63,413.68 258.12,413.39 261.60,413.07 C265.08,412.76 268.57,412.41 272.05,412.03 C275.53,411.66 279.02,411.25 282.50,410.83 C285.98,410.40 289.47,409.95 292.95,409.48 C296.43,409.01 299.92,408.51 303.40,408.01 C306.88,407.50 310.37,406.98 313.85,406.45 C317.33,405.91 320.82,405.36 324.30,404.81 C327.78,404.26 331.27,403.69 334.75,403.13 C338.23,402.57 341.72,401.99 345.20,401.43 C348.68,400.86 352.17,400.28 355.65,399.72 C359.13,399.16 362.62,398.59 366.10,398.04 C369.58,397.49 373.07,396.94 376.55,396.40 C380.03,395.87 383.52,395.35 387.00,394.84 C390.48,394.34 393.97,393.84 397.45,393.37 C400.93,392.90 404.42,392.45 407.90,392.02 C411.38,391.60 414.87,391.19 418.35,390.82 C421.83,390.44 425.32,390.09 428.80,389.78 C432.28,389.46 435.77,389.17 439.25,388.93 C442.73,388.68 446.22,388.46 449.70,388.29 C453.18,388.12 456.67,387.98 460.15,387.89 C463.63,387.80 468.76,387.77 470.60,387.75 C472.44,387.73 471.10,387.75 471.20,387.75 L471.20,387.75 C471.10,387.75 472.44,387.73 470.60,387.75 C468.76,387.77 463.63,387.80 460.15,387.89 C456.67,387.99 453.18,388.13 449.70,388.31 C446.22,388.49 442.73,388.71 439.25,388.97 C435.77,389.23 432.28,389.53 428.80,389.86 C425.32,390.19 421.83,390.55 418.35,390.94 C414.87,391.33 411.38,391.75 407.90,392.20 C404.42,392.64 400.93,393.11 397.45,393.60 C393.97,394.09 390.48,394.60 387.00,395.13 C383.52,395.65 380.03,396.20 376.55,396.75 C373.07,397.31 369.58,397.88 366.10,398.45 C362.62,399.03 359.13,399.61 355.65,400.20 C352.17,400.79 348.68,401.38 345.20,401.97 C341.72,402.57 338.23,403.16 334.75,403.75 C331.27,404.34 327.78,404.92 324.30,405.50 C320.82,406.07 317.33,406.64 313.85,407.20 C310.37,407.75 306.88,408.30 303.40,408.82 C299.92,409.35 296.43,409.86 292.95,410.35 C289.47,410.84 285.98,411.31 282.50,411.75 C279.02,412.20 275.53,412.62 272.05,413.01 C268.57,413.40 265.08,413.76 261.60,414.09 C258.12,414.42 254.63,414.72 251.15,414.98 C247.67,415.24 244.18,415.46 240.70,415.64 C237.22,415.82 233.73,415.96 230.25,416.06 C226.77,416.15 222.84,416.16 219.80,416.20 C216.76,416.24 215.30,416.27 212.00,416.30 C208.70,416.33 207.83,416.35 200.00,416.40 C192.17,416.45 173.33,416.55 165.00,416.60 C156.67,416.65 154.17,416.68 150.00,416.70 C145.83,416.72 143.00,416.95 140.00,416.70 C137.00,416.45 134.00,415.55 132.00,415.20 C130.00,414.85 129.33,414.88 128.00,414.60 C126.67,414.32 125.33,413.92 124.00,413.50 C122.67,413.08 121.33,412.43 120.00,412.10 C118.67,411.77 117.33,411.68 116.00,411.50 C114.67,411.32 113.33,411.17 112.00,411.00 C110.67,410.83 109.33,410.85 108.00,410.50 C106.67,410.15 105.33,409.55 104.00,408.90 C102.67,408.25 100.92,407.17 100.00,406.60 C99.08,406.03 99.03,405.88 98.50,405.50 C97.97,405.12 97.08,404.50 96.80,404.30 Z" fill="#33a02c"/>
<path d="M90.20,434.00 C91.17,433.60 94.37,432.48 96.00,431.60 C97.63,430.72 98.67,429.53 100.00,428.70 C101.33,427.87 102.67,427.13 104.00,426.60 C105.33,426.07 106.67,425.75 108.00,425.50 C109.33,425.25 110.67,425.28 112.00,425.10 C113.33,424.92 114.67,424.68 116.00,424.40 C117.33,424.12 118.67,423.70 120.00,423.40 C121.33,423.10 122.67,422.90 124.00,422.60 C125.33,422.30 126.67,421.88 128.00,421.60 C129.33,421.32 130.67,421.12 132.00,420.90 C133.33,420.68 134.67,420.45 136.00,420.30 C137.33,420.15 137.67,420.10 140.00,420.00 C142.33,419.90 145.83,419.80 150.00,419.70 C154.17,419.60 156.67,419.67 165.00,419.40 C173.33,419.13 192.17,418.42 200.00,418.10 C207.83,417.78 208.70,417.65 212.00,417.50 C215.30,417.35 216.76,417.26 219.80,417.20 C222.84,417.14 226.77,417.18 230.25,417.14 C233.73,417.11 237.22,417.05 240.70,416.98 C244.18,416.91 247.67,416.82 251.15,416.71 C254.63,416.61 258.12,416.49 261.60,416.36 C265.08,416.23 268.57,416.09 272.05,415.93 C275.53,415.78 279.02,415.61 282.50,415.43 C285.98,415.26 289.47,415.07 292.95,414.88 C296.43,414.68 299.92,414.48 303.40,414.27 C306.88,414.06 310.37,413.84 313.85,413.62 C317.33,413.40 320.82,413.18 324.30,412.95 C327.78,412.72 331.27,412.49 334.75,412.25 C338.23,412.02 341.72,411.78 345.20,411.55 C348.68,411.32 352.17,411.08 355.65,410.85 C359.13,410.61 362.62,410.38 366.10,410.15 C369.58,409.92 373.07,409.70 376.55,409.48 C380.03,409.26 383.52,409.04 387.00,408.83 C390.48,408.62 393.97,408.42 397.45,408.22 C400.93,408.03 404.42,407.84 407.90,407.67 C411.38,407.49 414.87,407.32 418.35,407.17 C421.83,407.01 425.32,406.87 428.80,406.74 C432.28,406.61 435.77,406.49 439.25,406.39 C442.73,406.28 446.22,406.19 449.70,406.12 C453.18,406.05 456.67,405.99 460.15,405.96 C463.63,405.92 468.76,405.91 470.60,405.90 C472.44,405.89 471.10,405.90 471.20,405.90 L471.20,447.30 C471.10,447.30 472.44,447.32 470.60,447.30 C468.76,447.28 463.63,447.25 460.15,447.16 C456.67,447.06 453.18,446.92 449.70,446.74 C446.22,446.56 442.73,446.34 439.25,446.08 C435.77,445.83 432.28,445.53 428.80,445.20 C425.32,444.88 421.83,444.51 418.35,444.13 C414.87,443.74 411.38,443.32 407.90,442.88 C404.42,442.44 400.93,441.97 397.45,441.48 C393.97,441.00 390.48,440.49 387.00,439.96 C383.52,439.44 380.03,438.90 376.55,438.35 C373.07,437.79 369.58,437.23 366.10,436.65 C362.62,436.08 359.13,435.50 355.65,434.91 C352.17,434.33 348.68,433.74 345.20,433.15 C341.72,432.56 338.23,431.97 334.75,431.39 C331.27,430.80 327.78,430.22 324.30,429.65 C320.82,429.07 317.33,428.51 313.85,427.95 C310.37,427.40 306.88,426.86 303.40,426.34 C299.92,425.81 296.43,425.30 292.95,424.82 C289.47,424.33 285.98,423.86 282.50,423.42 C279.02,422.98 275.53,422.56 272.05,422.17 C268.57,421.79 265.08,421.42 261.60,421.10 C258.12,420.77 254.63,420.47 251.15,420.22 C247.67,419.96 244.18,419.74 240.70,419.56 C237.22,419.38 233.73,419.24 230.25,419.14 C226.77,419.05 222.84,418.97 219.80,419.00 C216.76,419.03 215.30,419.13 212.00,419.30 C208.70,419.47 207.83,419.52 200.00,420.00 C192.17,420.48 173.33,421.70 165.00,422.20 C156.67,422.70 154.17,422.67 150.00,423.00 C145.83,423.33 142.33,423.78 140.00,424.20 C137.67,424.62 137.33,424.95 136.00,425.50 C134.67,426.05 133.33,426.65 132.00,427.50 C130.67,428.35 129.33,429.53 128.00,430.60 C126.67,431.67 125.33,432.83 124.00,433.90 C122.67,434.97 121.33,436.07 120.00,437.00 C118.67,437.93 117.33,438.83 116.00,439.50 C114.67,440.17 113.33,440.67 112.00,441.00 C110.67,441.33 109.33,441.55 108.00,441.50 C106.67,441.45 105.33,441.23 104.00,440.70 C102.67,440.17 101.33,439.12 100.00,438.30 C98.67,437.48 97.63,436.52 96.00,435.80 C94.37,435.08 91.17,434.30 90.20,434.00 Z" fill="#1f78b4"/>
<path d="M96.80,434.10 C97.33,433.95 98.80,433.42 100.00,433.20 C101.20,432.98 102.67,432.88 104.00,432.80 C105.33,432.72 106.67,432.80 108.00,432.70 C109.33,432.60 110.67,432.48 112.00,432.20 C113.33,431.92 114.67,431.45 116.00,431.00 C117.33,430.55 118.67,430.07 120.00,429.50 C121.33,428.93 122.67,428.25 124.00,427.60 C125.33,426.95 126.67,426.21 128.00,425.60 C129.33,424.99 130.67,424.43 132.00,423.95 C133.33,423.47 134.67,423.09 136.00,422.75 C137.33,422.41 137.67,422.22 140.00,421.90 C142.33,421.58 145.83,421.10 150.00,420.85 C154.17,420.60 156.67,420.71 165.00,420.38 C173.33,420.05 192.17,419.23 200.00,418.88 C207.83,418.53 208.70,418.41 212.00,418.28 C215.30,418.15 216.76,418.13 219.80,418.10 C222.84,418.07 226.77,418.09 230.25,418.08 C233.73,418.07 237.22,418.05 240.70,418.03 C244.18,418.00 247.67,417.97 251.15,417.94 C254.63,417.90 258.12,417.86 261.60,417.82 C265.08,417.77 268.57,417.73 272.05,417.67 C275.53,417.62 279.02,417.57 282.50,417.51 C285.98,417.45 289.47,417.38 292.95,417.32 C296.43,417.25 299.92,417.19 303.40,417.11 C306.88,417.04 310.37,416.97 313.85,416.90 C317.33,416.82 320.82,416.75 324.30,416.67 C327.78,416.59 331.27,416.52 334.75,416.44 C338.23,416.36 341.72,416.28 345.20,416.20 C348.68,416.12 352.17,416.04 355.65,415.96 C359.13,415.88 362.62,415.81 366.10,415.73 C369.58,415.65 373.07,415.58 376.55,415.50 C380.03,415.43 383.52,415.36 387.00,415.29 C390.48,415.21 393.97,415.15 397.45,415.08 C400.93,415.02 404.42,414.95 407.90,414.89 C411.38,414.83 414.87,414.78 418.35,414.73 C421.83,414.67 425.32,414.63 428.80,414.58 C432.28,414.54 435.77,414.50 439.25,414.46 C442.73,414.43 446.22,414.40 449.70,414.37 C453.18,414.35 456.67,414.33 460.15,414.32 C463.63,414.31 468.76,414.30 470.60,414.30 C472.44,414.30 471.10,414.30 471.20,414.30 L471.20,438.90 C471.10,438.90 472.44,438.92 470.60,438.90 C468.76,438.88 463.63,438.86 460.15,438.80 C456.67,438.73 453.18,438.63 449.70,438.50 C446.22,438.37 442.73,438.21 439.25,438.02 C435.77,437.84 432.28,437.62 428.80,437.39 C425.32,437.15 421.83,436.89 418.35,436.61 C414.87,436.33 411.38,436.03 407.90,435.71 C404.42,435.39 400.93,435.06 397.45,434.71 C393.97,434.36 390.48,433.99 387.00,433.61 C383.52,433.23 380.03,432.84 376.55,432.45 C373.07,432.05 369.58,431.64 366.10,431.23 C362.62,430.81 359.13,430.39 355.65,429.97 C352.17,429.55 348.68,429.12 345.20,428.70 C341.72,428.28 338.23,427.85 334.75,427.43 C331.27,427.01 327.78,426.59 324.30,426.17 C320.82,425.76 317.33,425.35 313.85,424.95 C310.37,424.56 306.88,424.17 303.40,423.79 C299.92,423.41 296.43,423.04 292.95,422.69 C289.47,422.34 285.98,422.01 282.50,421.69 C279.02,421.37 275.53,421.07 272.05,420.79 C268.57,420.51 265.08,420.25 261.60,420.01 C258.12,419.78 254.63,419.56 251.15,419.38 C247.67,419.19 244.18,419.03 240.70,418.90 C237.22,418.77 233.73,418.67 230.25,418.60 C226.77,418.54 222.84,418.48 219.80,418.50 C216.76,418.52 215.30,418.58 212.00,418.72 C208.70,418.86 207.83,418.97 200.00,419.32 C192.17,419.67 173.33,420.48 165.00,420.82 C156.67,421.16 154.17,421.07 150.00,421.35 C145.83,421.63 142.33,422.12 140.00,422.50 C137.67,422.88 137.33,423.19 136.00,423.65 C134.67,424.11 133.33,424.66 132.00,425.25 C130.67,425.84 129.33,426.51 128.00,427.20 C126.67,427.89 125.33,428.68 124.00,429.40 C122.67,430.12 121.33,430.87 120.00,431.50 C118.67,432.13 117.33,432.68 116.00,433.20 C114.67,433.72 113.33,434.28 112.00,434.60 C110.67,434.92 109.33,435.03 108.00,435.10 C106.67,435.17 105.33,435.08 104.00,435.00 C102.67,434.92 101.20,434.75 100.00,434.60 C98.80,434.45 97.33,434.18 96.80,434.10 Z" fill="#fb9a99"/>
<path d="M231.00,418.50 C234.33,418.51 245.97,418.53 250.97,418.55 C255.96,418.57 257.62,418.58 260.95,418.61 C264.28,418.63 267.61,418.66 270.93,418.69 C274.26,418.71 277.59,418.75 280.92,418.78 C284.24,418.81 287.57,418.85 290.90,418.89 C294.23,418.93 297.56,418.97 300.88,419.01 C304.21,419.06 307.54,419.10 310.87,419.15 C314.19,419.19 317.52,419.24 320.85,419.29 C324.18,419.34 327.51,419.39 330.83,419.44 C334.16,419.49 337.49,419.54 340.82,419.59 C344.14,419.65 347.47,419.70 350.80,419.75 C354.13,419.80 357.46,419.85 360.78,419.91 C364.11,419.96 367.44,420.01 370.77,420.06 C374.09,420.11 377.42,420.16 380.75,420.21 C384.08,420.26 387.41,420.31 390.73,420.35 C394.06,420.40 397.39,420.44 400.72,420.49 C404.04,420.53 407.37,420.57 410.70,420.61 C414.03,420.65 417.36,420.69 420.68,420.72 C424.01,420.75 427.34,420.79 430.67,420.81 C433.99,420.84 437.32,420.87 440.65,420.89 C443.98,420.92 447.31,420.94 450.63,420.95 C453.96,420.97 457.29,420.98 460.62,420.99 C463.94,421.00 468.84,421.00 470.60,421.00 C472.36,421.00 471.10,421.00 471.20,421.00 L471.20,432.00 C471.10,432.00 472.36,432.01 470.60,432.00 C468.84,431.99 463.94,431.98 460.62,431.93 C457.29,431.89 453.96,431.82 450.63,431.73 C447.31,431.65 443.98,431.54 440.65,431.42 C437.32,431.30 433.99,431.16 430.67,431.00 C427.34,430.84 424.01,430.67 420.68,430.49 C417.36,430.30 414.03,430.10 410.70,429.89 C407.37,429.68 404.04,429.46 400.72,429.22 C397.39,428.99 394.06,428.75 390.73,428.50 C387.41,428.25 384.08,427.99 380.75,427.73 C377.42,427.47 374.09,427.19 370.77,426.92 C367.44,426.65 364.11,426.37 360.78,426.09 C357.46,425.81 354.13,425.53 350.80,425.25 C347.47,424.97 344.14,424.69 340.82,424.41 C337.49,424.13 334.16,423.85 330.83,423.58 C327.51,423.31 324.18,423.03 320.85,422.77 C317.52,422.51 314.19,422.25 310.87,422.00 C307.54,421.75 304.21,421.51 300.88,421.28 C297.56,421.04 294.23,420.82 290.90,420.61 C287.57,420.40 284.24,420.20 280.92,420.01 C277.59,419.83 274.26,419.66 270.93,419.50 C267.61,419.34 264.28,419.20 260.95,419.08 C257.62,418.96 255.96,418.86 250.97,418.77 C245.97,418.67 234.33,418.54 231.00,418.50 Z" fill="#e31a1c"/>
<text x="35.0" y="473.4" font-size="9.8" fill="#111" stroke="#111" stroke-width="0.22">SJAML016582</text>
<path d="M35,482.8 H506.8" stroke="#9a9a9a" stroke-width="1.3"/>
<rect x="56.80" y="495.4" width="74.40" height="32" fill="#a6cee3"/>
<text x="95.20" y="508.8" text-anchor="middle" font-size="10" fill="#000" stroke="#000" stroke-width="0.2"><tspan font-style="italic">WT1</tspan> (T360fs)</text>
<text x="95.20" y="520.2" text-anchor="middle" font-size="10" fill="#000" stroke="#000" stroke-width="0.2"><tspan font-style="italic">NUP98::NSD1</tspan></text>
<rect x="144.70" y="495.4" width="38.80" height="32" fill="#1f78b4"/>
<text x="164.40" y="508.8" text-anchor="middle" font-size="10" fill="#000" stroke="#000" stroke-width="0.2"><tspan font-style="italic">NRAS</tspan></text>
<text x="164.40" y="520.2" text-anchor="middle" font-size="10" fill="#000" stroke="#000" stroke-width="0.2">(G12D)</text>
<rect x="197.80" y="495.4" width="68.10" height="32" fill="#b2df8a"/>
<text x="232.15" y="508.8" text-anchor="middle" font-size="10" fill="#000" stroke="#000" stroke-width="0.2"><tspan font-style="italic">NRAS</tspan></text>
<text x="232.15" y="520.2" text-anchor="middle" font-size="10" fill="#000" stroke="#000" stroke-width="0.2">(Q61R; MNV)</text>
<rect x="279.80" y="495.4" width="41.10" height="32" fill="#33a02c"/>
<text x="300.65" y="508.8" text-anchor="middle" font-size="10" fill="#000" stroke="#000" stroke-width="0.2"><tspan font-style="italic">NRAS</tspan></text>
<text x="300.65" y="520.2" text-anchor="middle" font-size="10" fill="#000" stroke="#000" stroke-width="0.2">(G13D)</text>
<rect x="336.00" y="495.4" width="66.80" height="32" fill="#fb9a99"/>
<text x="369.70" y="508.8" text-anchor="middle" font-size="10" fill="#000" stroke="#000" stroke-width="0.2"><tspan font-style="italic">NRAS</tspan></text>
<text x="369.70" y="520.2" text-anchor="middle" font-size="10" fill="#000" stroke="#000" stroke-width="0.2">(Q61R; SNV)</text>
<rect x="416.80" y="495.4" width="53.70" height="32" fill="#e31a1c"/>
<text x="443.95" y="508.8" text-anchor="middle" font-size="10" fill="#000" stroke="#000" stroke-width="0.2"><tspan font-style="italic">APC</tspan></text>
<text x="443.95" y="520.2" text-anchor="middle" font-size="10" fill="#000" stroke="#000" stroke-width="0.2">(N2811H)</text>
</svg></body></html>
